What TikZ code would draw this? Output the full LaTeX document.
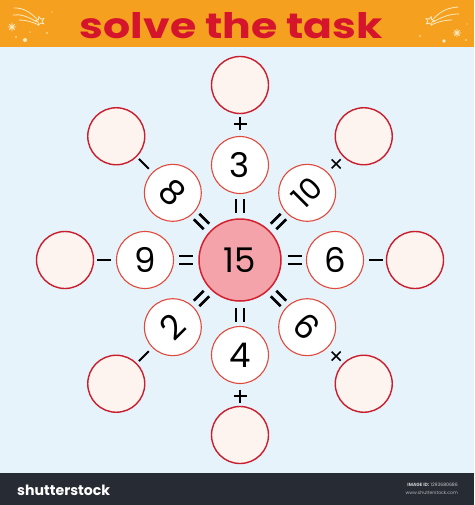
\documentclass[tikz,border=0pt]{standalone}
\usepackage{graphicx}
\usepackage{fontspec}
\setmainfont{Poppins}
\newfontfamily\numfont{Poppins}
\usetikzlibrary{shapes.geometric}
\definecolor{bgblue}{HTML}{E7F3FB}
\definecolor{headorange}{HTML}{F6A020}
\definecolor{titlered}{HTML}{D4152B}
\definecolor{footdark}{HTML}{272B34}
\definecolor{hubpink}{HTML}{F3A3A9}
\definecolor{hubred}{HTML}{D3202F}
\definecolor{ringred}{HTML}{E04A3C}
\definecolor{blankred}{HTML}{C81E2D}
\definecolor{blankfill}{HTML}{FDF3EF}
\definecolor{sparkle}{HTML}{FDEBC0}
\begin{document}
\begin{tikzpicture}[x=1pt,y=1pt,
  hub/.style={circle, draw=hubred, line width=1.5pt, fill=hubpink, minimum size=82pt, inner sep=0pt,
    font=\numfont\fontsize{34}{34}\selectfont},
  numcirc/.style={circle, draw=ringred, line width=1.1pt, fill=white, minimum size=57pt, inner sep=0pt,
    font=\numfont\fontsize{34}{34}\selectfont},
  blankcirc/.style={circle, draw=blankred, line width=1.4pt, fill=blankfill, minimum size=57pt, inner sep=0pt},
  opline/.style={black, line width=1.8pt},
  eqline/.style={black, line width=2.6pt},
  starline/.style={sparkle, line width=0.8pt, line cap=round}
]
\useasboundingbox (0,0) rectangle (474,-505);
\fill[bgblue] (0,0) rectangle (474,-505);
% header
\fill[headorange] (0,0) rectangle (474,-47.5);
\node[anchor=base, text=titlered, inner sep=0pt] (title) at (231.5,-39)
  {\resizebox{303pt}{26pt}{\bfseries solve the task}};
% left shooting star
\node[star, star points=5, star point ratio=2.1, draw=sparkle, line width=0.8pt, minimum size=9pt, inner sep=0pt, rotate=15] (starL) at (40,-21) {};
\draw[starline] (starL.north west) .. controls (28,-10) and (22,-8) .. (14,-8);
\draw[starline] (starL.west) .. controls (27,-16) and (20,-14) .. (13,-15);
\draw[starline] (starL.south west) .. controls (30,-21) and (24,-20) .. (19,-20);
\draw[starline] (8,-27) -- (16,-27) (12,-23) -- (12,-31) (9.5,-24.5) -- (14.5,-29.5) (14.5,-24.5) -- (9.5,-29.5);
\fill[sparkle] (25,-40) circle (2pt) (16,-37) circle (0.9pt) (47,-33) circle (0.8pt) (30,-32) circle (0.7pt) (52,-12) circle (0.7pt);
% right shooting star
\node[star, star points=5, star point ratio=2.1, draw=sparkle, line width=0.8pt, minimum size=9pt, inner sep=0pt, rotate=-15] (starR) at (430,-21) {};
\draw[starline] (starR.north east) .. controls (442,-10) and (448,-8) .. (458,-7);
\draw[starline] (starR.east) .. controls (444,-16) and (450,-14) .. (459,-14);
\draw[starline] (starR.south east) .. controls (440,-21) and (446,-20) .. (452,-20);
\draw[starline] (453,-33) -- (461,-33) (457,-29) -- (457,-37) (454.5,-30.5) -- (459.5,-35.5) (459.5,-30.5) -- (454.5,-35.5);
\fill[sparkle] (444,-41) circle (1.8pt) (466,-40) circle (0.9pt) (420,-36) circle (0.8pt) (467,-24) circle (0.7pt);
% footer
\fill[footdark] (0,-473) rectangle (474,-505);
\node[anchor=base west, text=white, inner sep=0pt] (logo) at (17,-495)
  {\resizebox{93pt}{!}{\bfseries shutterstock}};
\node[anchor=base east, text=white!75!footdark, inner sep=0pt, font=\fontsize{4.6}{5}\selectfont] (imgid) at (458,-486)
  {\textbf{IMAGE ID:} 1293680686};
\node[anchor=base east, text=white!65!footdark, inner sep=0pt, font=\fontsize{4.6}{5}\selectfont] (www) at (458,-494)
  {www.shutterstock.com};
% puzzle
\begin{scope}[shift={(240,-260)}]
  \node[hub] (hub) at (0,0) {15};
  % inner number circles
  \node[numcirc] (n3) at (90:95) {3};
  \node[numcirc] (n4) at (270:95) {4};
  \node[numcirc] (n9l) at (180:95) {9};
  \node[numcirc] (n6) at (0:95) {6};
  \node[numcirc, rotate=-45] (n8) at (135:95) {8};
  \node[numcirc, rotate=45, font=\numfont\fontsize{30}{30}\selectfont] (n10) at (45:95) {10};
  \node[numcirc, rotate=45] (n2) at (225:95) {2};
  \node[numcirc, rotate=135] (n9r) at (315:95) {9};
  % outer blank circles
  \foreach \a/\nm in {90/bT,270/bB,180/bL,0/bR,135/bTL,45/bTR,225/bBL,315/bBR}
    \node[blankcirc] (\nm) at (\a:175) {};
  % equal signs
  \foreach \a in {0,45,...,315}{
    \begin{scope}[rotate=\a]
      \draw[eqline] (47.5,3.9) -- (61.5,3.9);
      \draw[eqline] (47.5,-3.9) -- (61.5,-3.9);
    \end{scope}
  }
  % plus signs (top, bottom)
  \draw[opline] (-6.5,136) -- (6.5,136) (0,129.5) -- (0,142.5);
  \draw[opline] (-6.5,-136) -- (6.5,-136) (0,-129.5) -- (0,-142.5);
  % minus signs (left, right, diagonals)
  \foreach \a in {0,180,135,225}{
    \begin{scope}[rotate=\a]
      \draw[opline] (129,0) -- (143,0);
    \end{scope}
  }
  % times signs
  \foreach \a in {45,315}{
    \begin{scope}[shift={(\a:136)}]
      \draw[opline, line width=1.6pt] (-4.5,-4.5) -- (4.5,4.5) (-4.5,4.5) -- (4.5,-4.5);
    \end{scope}
  }
\end{scope}
\end{tikzpicture}
\end{document}
